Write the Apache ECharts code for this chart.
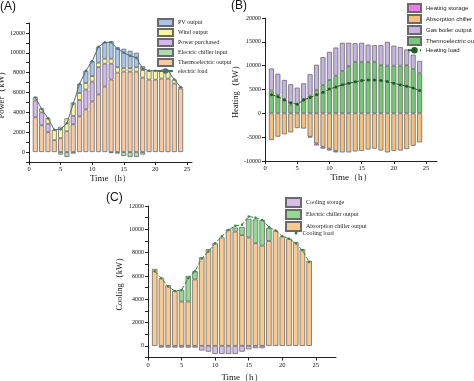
<!DOCTYPE html>
<html><head><meta charset="utf-8">
<script src="https://cdn.jsdelivr.net/npm/echarts@6/dist/echarts.min.js"></script>
<style>html,body{margin:0;padding:0;background:#fff}#c{width:474px;height:381px}</style>
</head><body><div id="c"></div>
<script>
const hours = [1,2,3,4,5,6,7,8,9,10,11,12,13,14,15,16,17,18,19,20,21,22,23,24];

// Panel A (electric)
const aThermo    = [3500,2700,2000,1200,1400,2100,2800,3600,4300,5100,5800,6600,7300,8000,8100,8100,8100,7500,7300,7300,7400,7400,6900,6400];
const aPurchased = [1700,1300,850,null,null,null,850,1650,2000,2000,2750,2300,1600,null,null,null,null,null,null,null,null,null,null,null];
const aWind      = [350,400,600,1050,1150,1300,1350,700,650,550,450,500,500,550,350,350,450,750,900,900,800,800,400,150];
const aPV        = [null,null,null,null,null,null,null,900,1250,1500,1600,1650,1750,2000,1950,1750,1450,400,null,null,null,null,null,null];
const aChiller   = [null,null,null,null,-250,-500,-150,null,null,null,null,null,-100,-150,-400,-500,-500,-250,null,null,null,null,null,null];
const aLoad      = [5500,4350,3400,2250,2300,2900,4850,6850,8200,9150,10600,11050,11050,10400,10000,9700,9500,8400,8200,8200,8200,8200,7300,6550];

// Panel B (heating)
const bThermo    = [4800,3900,3000,1800,1900,3000,3700,4900,5900,7000,7900,8900,9900,10800,10800,10800,10800,10100,10000,10000,10000,10100,9300,8400];
const bGas       = [4600,4400,4000,4300,3500,3300,4500,5300,5900,5900,5900,5900,4900,3900,4000,3600,3500,4200,5000,4200,3900,3300,3000,2600];
const bAbsIn     = [-5600,-4900,-4400,-4000,-3100,-3200,-4900,-6300,-7000,-7400,-7900,-8200,-8200,-8000,-7900,-7600,-7400,-7800,-8200,-7900,-7800,-7500,-6800,-6100];
const bStorage   = [null,null,null,null,null,null,-150,-450,-400,-400,-300,null,null,null,null,null,null,null,null,null,null,null,null,null];
const bLoad      = [3900,3500,2800,2200,1900,2800,3300,3900,4400,5100,5500,6000,6300,6600,6900,7000,7000,6900,6700,6300,6000,5700,5300,4800];

// Panel C (cooling)
const cAbsOut    = [6600,5800,5200,4700,3800,3800,5700,7600,8300,8800,9300,10000,9800,9500,9300,8800,8600,9000,9900,9400,9200,8900,8300,7300];
const cElecOut   = [null,null,null,null,1000,2200,700,null,null,null,null,null,350,700,1600,2050,2200,1100,null,null,null,null,null,null];
const cStorage   = [null,-150,-150,-150,-150,-150,-150,-400,-500,-700,-700,-700,-700,-500,-300,-200,-200,null,null,null,null,null,null,null];
const cLoad      = [6400,5800,5100,4700,4800,5800,6400,7500,8100,8800,9400,9950,10300,10400,11100,11000,10800,10200,9900,9400,9200,8800,8200,7200];

// value first, hour second (so that stacking acts on the value dimension)
const pair = arr => hours.map((h,i)=>[arr[i], h]);
const ENC = {x:1, y:0};
const SERIF = 'Liberation Serif';
const BORDER = '#6a6a6a';

function bar(name, arr, color, xi, stack, bw){
  return {type:'bar', name, xAxisIndex:xi, yAxisIndex:xi, stack, barWidth:bw, encode:ENC,
    data:pair(arr), itemStyle:{color, borderColor:BORDER, borderWidth:0.8}, emphasis:{disabled:true}};
}
function line(name, arr, color, xi, dashed, size){
  return {type:'line', name, xAxisIndex:xi, yAxisIndex:xi, data:pair(arr), encode:ENC, z:5,
    symbol:'circle', symbolSize:size, showSymbol:true,
    lineStyle:{color, width:1, type: dashed ? 'dashed':'solid'}, itemStyle:{color}, emphasis:{disabled:true}};
}
function xAx(gi, max, gap){
  return {type:'value', gridIndex:gi, min:0, max, interval:5, name:'Time（h）', nameLocation:'middle', nameGap:gap,
    nameTextStyle:{fontFamily:SERIF, fontSize:9, color:'#111'},
    axisLine:{show:true, onZero:false, lineStyle:{color:'#222', width:1}},
    axisTick:{show:true, length:3, lineStyle:{color:'#222'}},
    axisLabel:{fontFamily:SERIF, fontSize:6.5, color:'#111', margin:4, showMaxLabel:false},
    splitLine:{show:false}};
}
function yAx(gi, name, min, max, interval, gap, even){
  return {type:'value', gridIndex:gi, min, max, interval, name, nameLocation:'middle', nameGap:gap, nameRotate:90,
    nameTextStyle:{fontFamily:SERIF, fontSize:8.5, color:'#111'},
    axisLine:{show:true, onZero:false, lineStyle:{color:'#222', width:1}},
    axisTick:{show:true, length:3, lineStyle:{color:'#222'}},
    axisLabel:{fontFamily:SERIF, fontSize:6, color:'#111', margin:4,
      formatter: v => (even && v % 2000 !== 0) ? '' : String(v)},
    splitLine:{show:false}};
}

const chart = echarts.init(document.getElementById('c'), null, {renderer:'canvas'});
chart.setOption({
  animation:false,
  backgroundColor:'#fff',
  grid:[
    {left:29, top:23, width:163, height:139, outerBoundsMode:'none', containLabel:false},
    {left:265, top:18, width:172, height:143, outerBoundsMode:'none', containLabel:false},
    {left:148, top:206, width:188, height:151.5, outerBoundsMode:'none', containLabel:false}
  ],
  xAxis:[xAx(0, 25.8, 12), xAx(1, 26.7, 11), xAx(2, 28, 16)],
  yAxis:[
    yAx(0, 'Power（kW）', -1000, 13000, 1000, 20, true),
    yAx(1, 'Heating（kW）', -10000, 20000, 5000, 19, false),
    yAx(2, 'Cooling（kW）', -1000, 12000, 1000, 24, true)
  ],
  legend:[
    {left:157, top:18, orient:'vertical', itemWidth:15, itemHeight:7, itemGap:1, selectedMode:false, padding:0,
     textStyle:{fontFamily:SERIF, fontSize:6, color:'#222'},
     data:[{name:'PV output',icon:'rect'},{name:'Wind output',icon:'rect'},{name:'Power purchased',icon:'rect'},
           {name:'Electric chiller input',icon:'rect'},{name:'Thermoelectric output',icon:'rect'},{name:'electric load'}]},
    {left:407, top:3, orient:'vertical', itemWidth:13, itemHeight:8, itemGap:1, selectedMode:false, padding:0,
     textStyle:{fontFamily:'Liberation Sans', fontSize:6, color:'#222'},
     data:[{name:'Heating storage',icon:'rect'},{name:'Absorption chiller input',icon:'rect'},{name:'Gas boiler output',icon:'rect'},
           {name:'Thermoelectric output ',icon:'rect'},{name:'Heating load'}]},
    {left:285, top:197, orient:'vertical', itemWidth:15, itemHeight:9, itemGap:1, selectedMode:false, padding:0,
     textStyle:{fontFamily:SERIF, fontSize:6, color:'#222'},
     data:[{name:'Cooling storage',icon:'rect'},{name:'Electric chiller output',icon:'rect'},{name:'Absorption chiller output',icon:'rect'}]},
    {left:294.5, top:230, orient:'vertical', itemWidth:3, itemHeight:3, selectedMode:false, padding:0,
     textStyle:{fontFamily:SERIF, fontSize:6, color:'#222'},
     data:[{name:'Cooling load', icon:'circle'}]}
  ],
  graphic:[
    {type:'text', left:0, top:1, style:{text:'(A)', font:'12px "Liberation Sans"', fill:'#111'}},
    {type:'text', left:231, top:0, style:{text:'(B)', font:'12px "Liberation Sans"', fill:'#111'}},
    {type:'text', left:106, top:192, style:{text:'(C)', font:'12px "Liberation Sans"', fill:'#111'}}
  ],
  series:[
    bar('Thermoelectric output', aThermo, '#fcc99f', 0, 'a', 5),
    bar('Power purchased', aPurchased, '#d4b6f0', 0, 'a', 5),
    bar('Wind output', aWind, '#fbf79a', 0, 'a', 5),
    bar('PV output', aPV, '#a7c6ee', 0, 'a', 5),
    bar('Electric chiller input', aChiller, '#a9dfa9', 0, 'a', 5),
    line('electric load', aLoad, '#4a6f78', 0, false, 2.5),

    bar('Thermoelectric output ', bThermo, '#74ca74', 1, 'b', 5),
    bar('Gas boiler output', bGas, '#c5b4e3', 1, 'b', 5),
    bar('Absorption chiller input', bAbsIn, '#f7bf7c', 1, 'b', 5),
    bar('Heating storage', bStorage, '#f07cee', 1, 'b', 5),
    line('Heating load', bLoad, '#1b5e20', 1, true, 3),

    bar('Absorption chiller output', cAbsOut, '#fcc98f', 2, 'c', 5.5),
    bar('Electric chiller output', cElecOut, '#93d993', 2, 'c', 5.5),
    bar('Cooling storage', cStorage, '#d7bdea', 2, 'c', 5.5),
    line('Cooling load', cLoad, '#2e8b3e', 2, true, 2.5)
  ]
});
</script></body></html>
